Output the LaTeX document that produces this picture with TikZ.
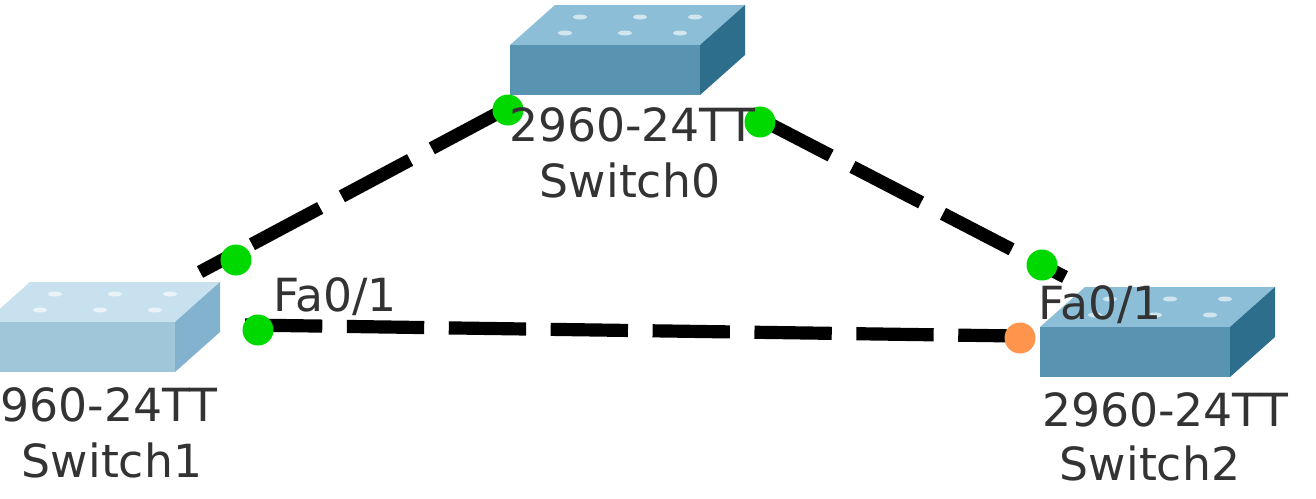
\documentclass[tikz,border=0pt]{standalone}
\usepackage{fontspec}
\setmainfont{DejaVu Sans}
\definecolor{swfront}{RGB}{88,148,178}
\definecolor{swtop}{RGB}{140,190,215}
\definecolor{swside}{RGB}{45,110,140}
\definecolor{lfront}{RGB}{160,198,218}
\definecolor{ltop}{RGB}{200,225,238}
\definecolor{lside}{RGB}{130,178,205}
\begin{document}
\begin{tikzpicture}[x=0.02cm,y=-0.02cm,
  lbl/.style={font=\fontsize{26}{30}\selectfont, text=black!80, inner sep=0pt},
  link/.style={line width=7.5pt, dash pattern=on 44pt off 14pt, black},
  gdot/.style={circle, fill=green!85!black, inner sep=0pt, minimum size=0.62cm},
  odot/.style={circle, fill=orange!80!red!70, inner sep=0pt, minimum size=0.62cm}]
\useasboundingbox (0,0) rectangle (1316,498);
\fill[white] (0,0) rectangle (1316,498);
\newcommand{\swbox}[5]{%
  \fill[#4] (#1,#2) -- ++(45,-40) -- ++(190,0) -- ++(-45,40) -- cycle;
  \fill[#3] (#1,#2) rectangle ++(190,50);
  \fill[#5] (#1+190,#2) -- ++(45,-40) -- ++(0,50) -- ++(-45,40) -- cycle;
  \foreach \dx/\dy in {70/-28,130/-28,185/-28,55/-12,115/-12,170/-12}
    \fill[white,opacity=.6] (#1+\dx,#2+\dy) ellipse (7 and 2.5);
}
\swbox{510}{45}{swfront}{swtop}{swside}
\swbox{-15}{322}{lfront}{ltop}{lside}
\swbox{1040}{327}{swfront}{swtop}{swside}
\coordinate (s0a) at (500,112);
\coordinate (s0b) at (762,120);
\coordinate (s1a) at (200,272);
\coordinate (s1b) at (245,325);
\coordinate (s2a) at (1065,277);
\coordinate (s2b) at (1018,336);
\draw[link] (s0a) -- (s1a);
\draw[link] (s0b) -- (s2a);
\draw[link] (s1b) -- (s2b);
\node[gdot] (d1) at (508,110) {};
\node[gdot] (d2) at (760,122) {};
\node[gdot] (d3) at (236,260) {};
\node[gdot] (d4) at (1042,265) {};
\node[gdot] (d5) at (258,330) {};
\node[odot] (d6) at (1020,338) {};
\node[lbl] (t0a) at (632,125) {2960-24TT};
\node[lbl] (t0b) at (630,180) {Switch0};
\node[lbl, anchor=west] (t1a) at (0,405) {960-24TT};
\node[lbl] (t1b) at (112,460) {Switch1};
\node[lbl] (t2a) at (1165,410) {2960-24TT};
\node[lbl] (t2b) at (1150,463) {Switch2};
\node[lbl] (f1) at (335,297) {Fa0/1};
\node[lbl] (f2) at (1100,305) {Fa0/1};
\end{tikzpicture}
\end{document}
